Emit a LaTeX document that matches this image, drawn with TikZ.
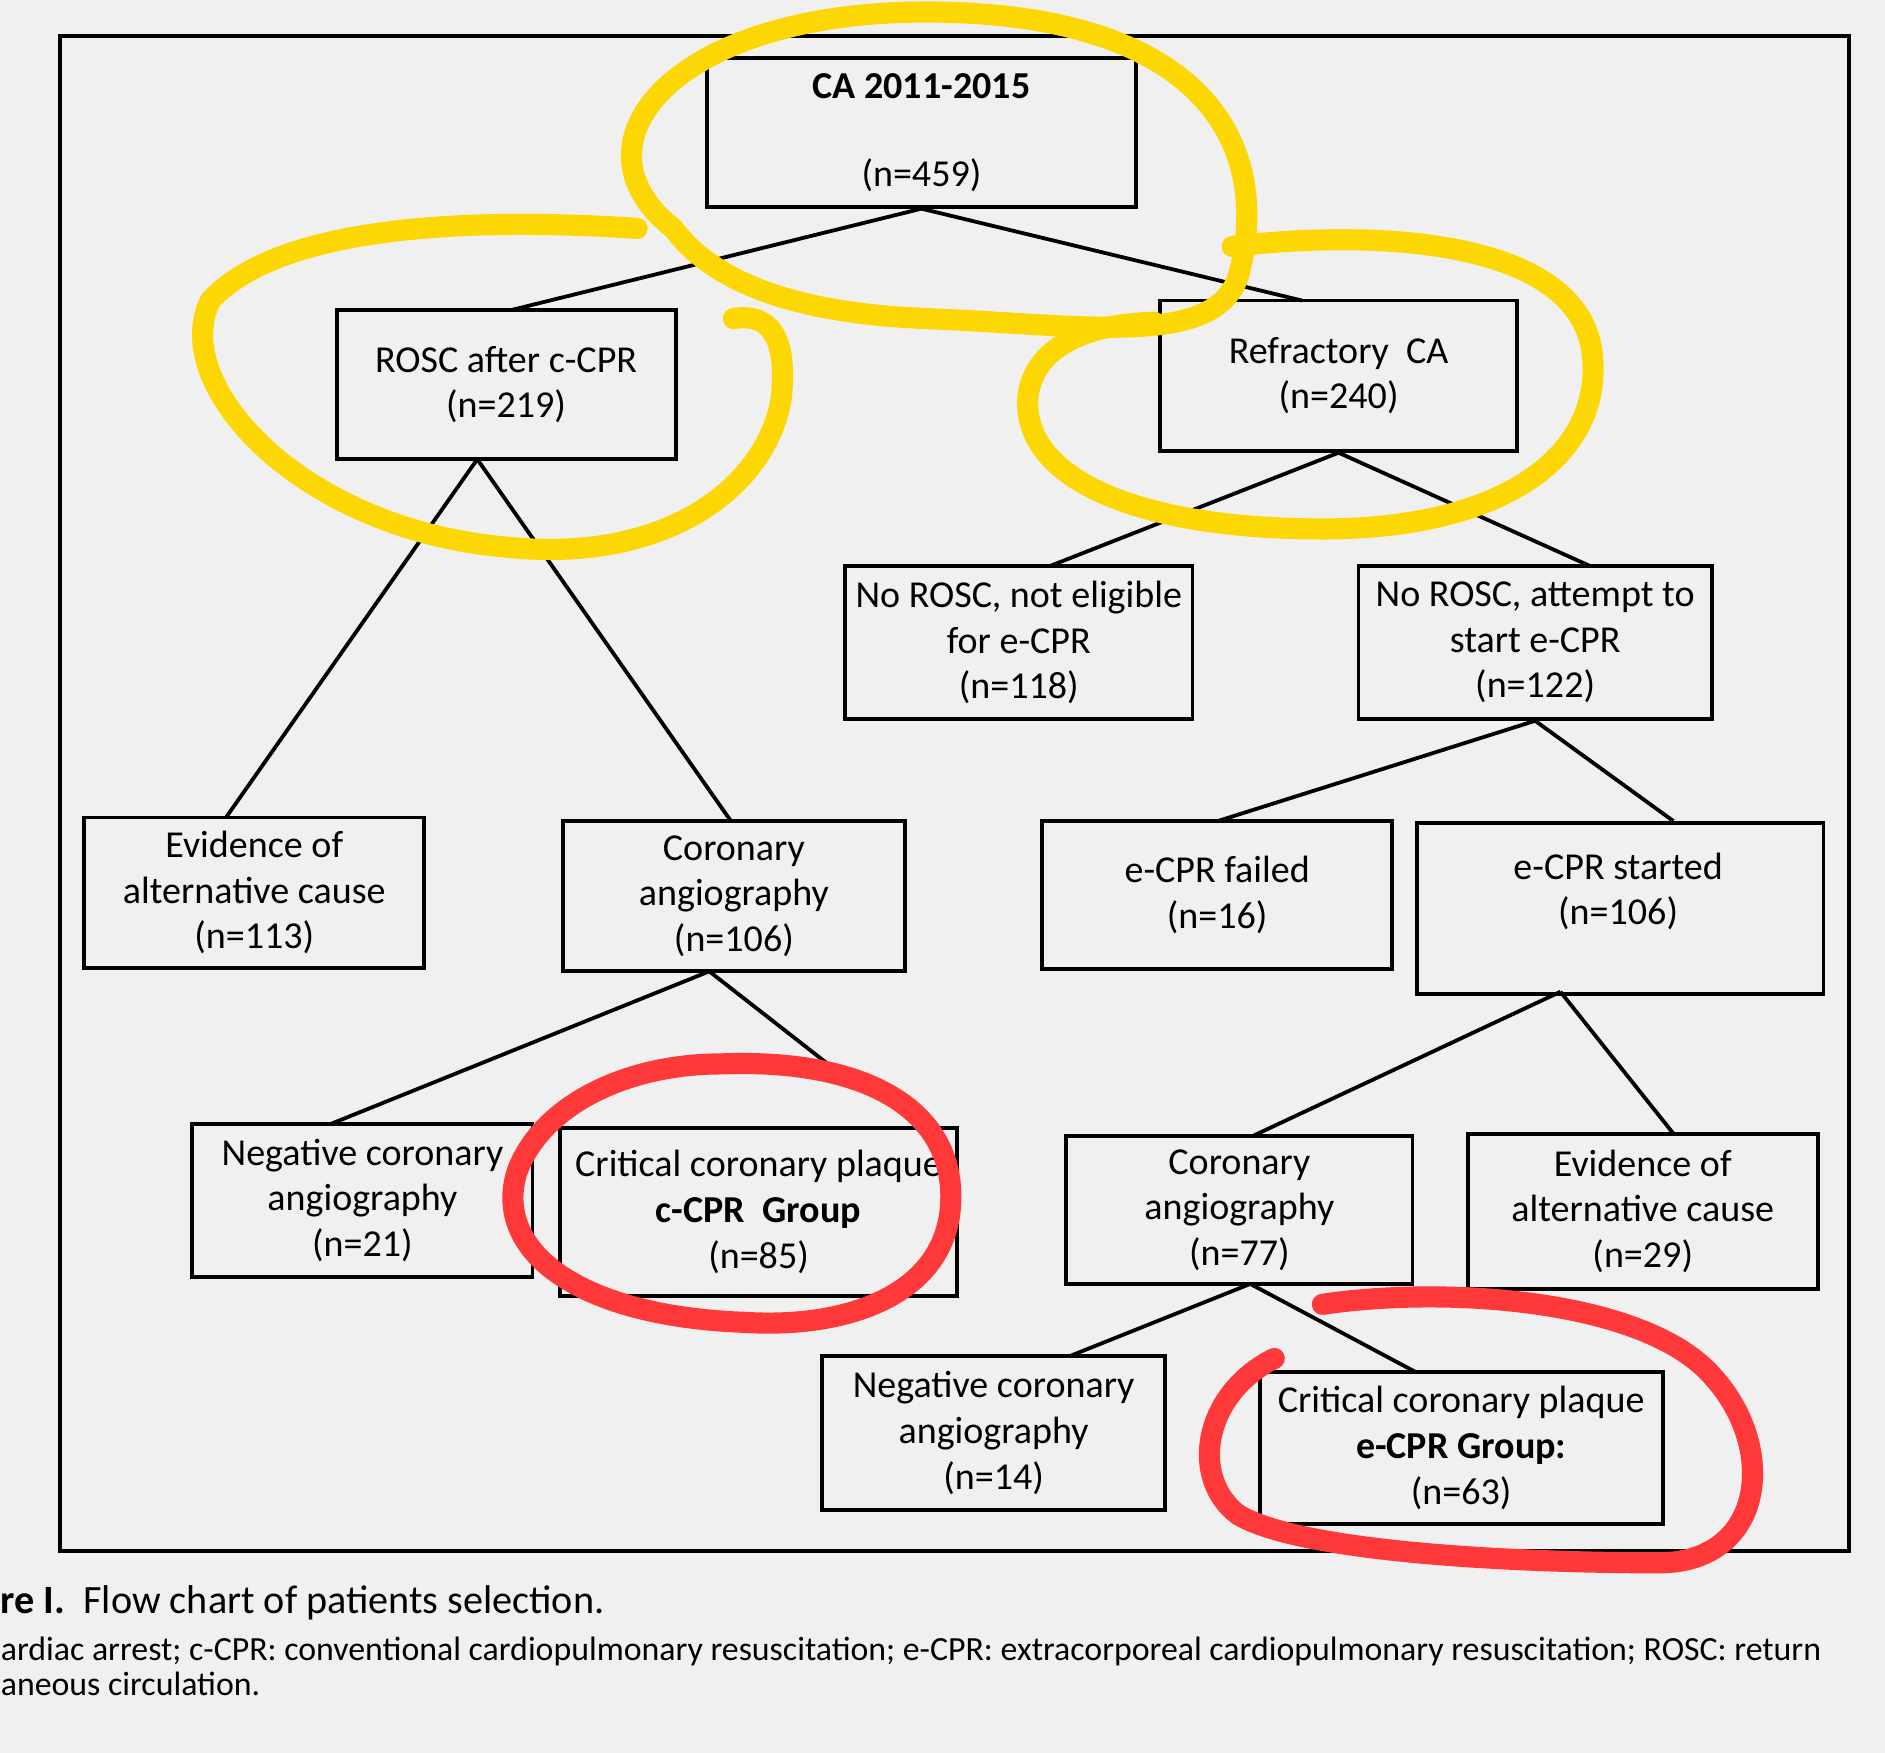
\documentclass[tikz,border=0pt]{standalone}
\usepackage{fontspec}
\setmainfont{Carlito}
\begin{document}
\begin{tikzpicture}[x=0.01cm,y=-0.01cm,
  box/.style={draw,line width=0.9pt,align=center,font=\fontsize{9}{10.8}\selectfont,inner sep=0pt},
  ln/.style={line width=0.9pt},
  yel/.style={draw=yellow!75!orange,line width=5pt,line cap=round},
  redm/.style={draw=red!70!pink,line width=5pt,line cap=round}]
\useasboundingbox (0,0) rectangle (1568,1458);
\fill[gray!12] (0,0) rectangle (1568,1458);
\draw[line width=1pt] (50,30) rectangle (1538,1290);
\newcommand{\bx}[6]{\node[box,minimum width={(#4-#2)*0.01cm},minimum height={(#5-#3)*0.01cm}] (#1) at ({(#2+#4)/2},{(#3+#5)/2}) {#6};}
\bx{ca}{588}{48}{945}{172}{\textbf{CA 2011-2015}\\[10pt](n=459)}
\bx{rosc}{280}{258}{562}{382}{ROSC after c-CPR\\(n=219)}
\bx{ref}{965}{250}{1262}{375}{Refractory\ \ CA\\(n=240)}
\bx{nne}{703}{471}{992}{598}{No ROSC, not eligible\\for e-CPR\\(n=118)}
\bx{nat}{1130}{471}{1424}{598}{No ROSC, attempt to\\start e-CPR\\(n=122)}
\bx{eal}{70}{680}{353}{805}{Evidence of\\alternative cause\\(n=113)}
\bx{cal}{468}{683}{753}{808}{Coronary\\angiography\\(n=106)}
\bx{ef}{867}{683}{1158}{806}{e-CPR failed\\(n=16)}
\node[box,minimum width=3.38cm,minimum height=1.42cm,anchor=north west] (es) at (1177,683) {};
\node[font=\fontsize{9}{10.8}\selectfont,align=center,anchor=north] (est) at (1346,697) {e-CPR started\\(n=106)};
\bx{ngl}{160}{935}{443}{1062}{Negative coronary\\angiography\\(n=21)}
\bx{ccl}{466}{938}{796}{1078}{Critical coronary plaque\\\textbf{c-CPR\ \ Group}\\(n=85)}
\bx{car}{887}{945}{1175}{1068}{Coronary\\angiography\\(n=77)}
\bx{ear}{1221}{943}{1512}{1072}{Evidence of\\alternative cause\\(n=29)}
\bx{ngr}{684}{1128}{969}{1256}{Negative coronary\\angiography\\(n=14)}
\bx{cer}{1048}{1141}{1383}{1268}{Critical coronary plaque\\\textbf{e-CPR Group:}\\(n=63)}
\draw[ln] (ca.south) -- (425,258) (ca.south) -- (1083,250);
\draw[ln] (397,382) -- (188,680) (397,382) -- (608,683);
\draw[ln] (ref.south) -- (873,471) (ref.south) -- (1323,471);
\draw[ln] (nat.south) -- (1013,683) (nat.south) -- (1392,683);
\draw[ln] (590,808) -- (275,935) (590,808) -- (695,890);
\draw[ln] (1298,825) -- (1042,945) (1298,825) -- (1392,943);
\draw[ln] (1040,1068) -- (890,1128) (1040,1068) -- (1177,1141);
% highlights
\draw[yel] (560,190) .. controls (470,120) and (560,10) .. (770,10) .. controls (1000,10) and (1060,120) .. (1030,230) .. controls (1010,290) and (900,270) .. (770,265) .. controls (650,260) and (590,230) .. (560,190);
\draw[yel] (530,190) .. controls (380,180) and (230,190) .. (175,250) .. controls (140,320) and (250,440) .. (420,455) .. controls (560,470) and (640,400) .. (650,330) .. controls (655,280) and (640,260) .. (610,265);
\draw[yel] (1025,205) .. controls (1150,190) and (1320,200) .. (1325,300) .. controls (1330,380) and (1250,440) .. (1100,440) .. controls (950,440) and (850,400) .. (855,330) .. controls (860,290) and (900,270) .. (960,268);
\draw[redm] (600,885) .. controls (730,880) and (800,930) .. (790,1010) .. controls (780,1080) and (700,1105) .. (620,1100) .. controls (480,1095) and (410,1040) .. (430,975) .. controls (450,920) and (520,885) .. (600,885);
\draw[redm] (1100,1085) .. controls (1200,1070) and (1360,1080) .. (1420,1140) .. controls (1480,1200) and (1470,1300) .. (1380,1300) .. controls (1250,1300) and (1080,1290) .. (1030,1260) .. controls (990,1230) and (1000,1160) .. (1060,1130);
% caption
\node[anchor=west,font=\fontsize{9.5}{11}\selectfont,inner sep=0pt] (cap1) at (0,1333) {\textbf{re I.}\ \ Flow chart of patients selection.};
\node[anchor=west,font=\fontsize{8}{10}\selectfont,inner sep=0pt] (cap2) at (0,1374) {ardiac arrest; c-CPR: conventional cardiopulmonary resuscitation; e-CPR: extracorporeal cardiopulmonary resuscitation; ROSC: return};
\node[anchor=west,font=\fontsize{8}{10}\selectfont,inner sep=0pt] (cap3) at (0,1401) {aneous circulation.};
\end{tikzpicture}
\end{document}
